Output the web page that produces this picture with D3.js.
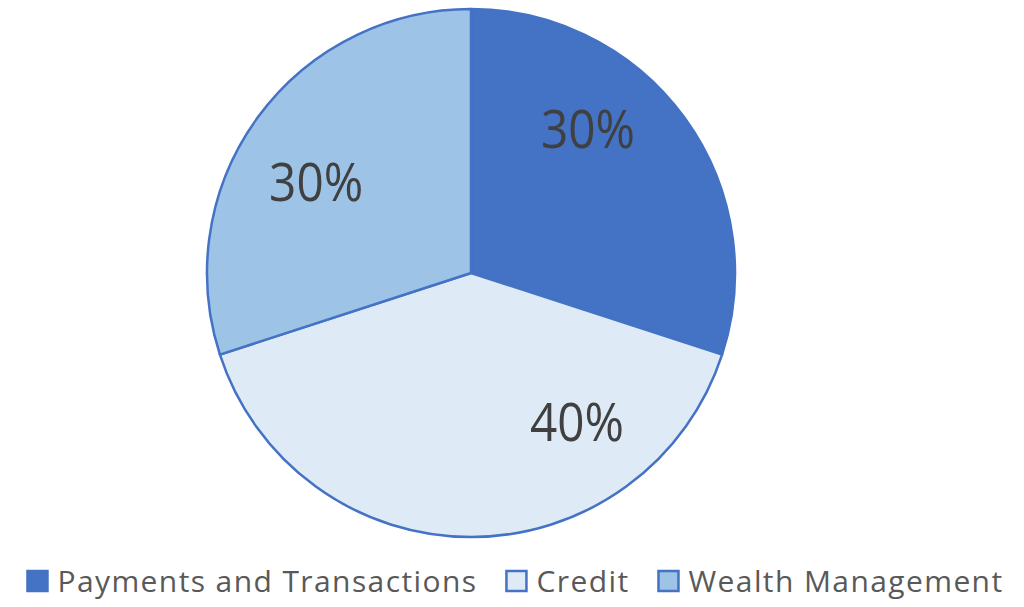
<!DOCTYPE html>
<html>
<head>
<meta charset="utf-8">
<script src="https://cdn.jsdelivr.net/npm/d3@7"></script>
<style>
  body { margin: 0; background: #fff; }
  text { font-family: "Open Sans", sans-serif; fill: #595959; }
</style>
</head>
<body>
<svg width="1024" height="607"></svg>
<script>
const categories = ["Payments and Transactions", "Credit", "Wealth Management"];
const values = [30, 40, 30];
const labels = ["30%", "40%", "30%"];
const colors = ["#4472C4", "#DEEBF7", "#9DC3E6"];

const svg = d3.select("svg");
const cx = 471, cy = 273, radius = 264;

const pie = d3.pie().sort(null).value(d => d);
const arcs = pie(values);
const arc = d3.arc().innerRadius(0).outerRadius(radius);

const g = svg.append("g").attr("transform", `translate(${cx},${cy})`);

g.selectAll("path")
  .data(arcs)
  .enter()
  .append("path")
  .attr("d", arc)
  .attr("fill", (d, i) => colors[i])
  .attr("stroke", "#4472C4")
  .attr("stroke-width", 2.5)
  .attr("stroke-linejoin", "round");

// label spots: nudged a bit off the mid angle like the original
const nudge = [-15, -36, -5]; // degrees
const lr = [0.71, 0.69, 0.68];
g.selectAll(".lbl")
  .data(arcs)
  .enter()
  .append("text")
  .attr("class", "lbl")
  .attr("text-anchor", "middle")
  .attr("dominant-baseline", "central")
  .style("font-size", "53px")
  .style("fill", "#404040")
  .attr("textLength", 94)
  .attr("lengthAdjust", "spacingAndGlyphs")
  .attr("x", (d, i) => {
    const a = (d.startAngle + d.endAngle) / 2 + nudge[i] * Math.PI / 180;
    return Math.sin(a) * radius * lr[i] - 1;
  })
  .attr("y", (d, i) => {
    const a = (d.startAngle + d.endAngle) / 2 + nudge[i] * Math.PI / 180;
    return -Math.cos(a) * radius * lr[i];
  })
  .text((d, i) => labels[i]);

// legend
const legend = svg.append("g");
const box = 22, gapText = 9, gapItem = 28;
let x = 0;
categories.forEach((c, i) => {
  const item = legend.append("g").attr("transform", `translate(${x},0)`);
  item.append("rect")
    .attr("x", 1).attr("y", -21)
    .attr("width", box - 2).attr("height", box - 2)
    .attr("fill", colors[i])
    .attr("stroke", "#4472C4")
    .attr("stroke-width", 2.5);
  const t = item.append("text")
    .attr("x", box + gapText)
    .attr("y", 0)
    .style("font-size", "30px")
    .style("letter-spacing", "1.4px")
    .text(c);
  x += box + gapText + t.node().getComputedTextLength() + gapItem;
});
const total = x - gapItem;
legend.attr("transform", `translate(${515 - total / 2},592)`);
</script>
</body>
</html>
